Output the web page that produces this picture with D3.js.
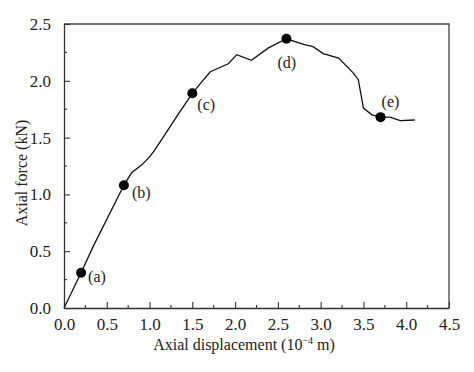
<!DOCTYPE html>
<html>
<head>
<meta charset="utf-8">
<script src="https://cdn.jsdelivr.net/npm/d3@7"></script>
<style>
  body { margin: 0; background: #fff; }
  svg text { font-family: "Liberation Serif", "DejaVu Serif", serif; fill: #222; }
</style>
</head>
<body>
<div class="canvas"></div>
<script>
// displacement (10^-4 m) and axial force (kN)
var disp = [0, 0.2, 0.34, 0.7, 0.79, 0.91, 1.0, 1.06, 1.2, 1.33, 1.5, 1.61, 1.71, 1.92, 2.02,
  2.19, 2.39, 2.6, 2.8, 2.91, 3.03, 3.21, 3.38, 3.44, 3.5, 3.6, 3.7, 3.81, 3.93, 4.1];
var force = [0, 0.31, 0.54, 1.08, 1.19, 1.26, 1.33, 1.39, 1.55, 1.7, 1.89, 1.99, 2.08, 2.15, 2.23,
  2.18, 2.29, 2.37, 2.32, 2.3, 2.24, 2.2, 2.07, 2.01, 1.76, 1.7, 1.68, 1.68, 1.65, 1.655];

// marked stages
var stageNames = ["(a)", "(b)", "(c)", "(d)", "(e)"];
var stageDisp = [0.2, 0.7, 1.5, 2.6, 3.7];
var stageForce = [0.31, 1.08, 1.89, 2.37, 1.68];

var xTicks = [0, 0.5, 1, 1.5, 2, 2.5, 3, 3.5, 4, 4.5];
var yTicks = [0, 0.5, 1, 1.5, 2, 2.5];

// label offsets (px) relative to each marker
var labelDx = [7, 8, 5, -9, 1];
var labelDy = [9, 13, 17, 29, -10];

var width = 474, height = 372;
var mLeft = 64, mRight = 449, mTop = 24, mBottom = 308;

var svg = d3.select(".canvas").append("svg")
  .attr("width", width).attr("height", height);

var x = d3.scaleLinear().domain([0, 4.5]).range([mLeft, mRight]);
var y = d3.scaleLinear().domain([0, 2.5]).range([mBottom, mTop]);

// frame top/right
svg.append("path")
  .attr("d", `M${mLeft},${mTop}H${mRight}V${mBottom}`)
  .attr("fill", "none").attr("stroke", "#444").attr("stroke-width", 1.3);

// axes with inward ticks
var xAxis = svg.append("g").attr("transform", `translate(0,${mBottom})`)
  .call(d3.axisBottom(x).tickValues(xTicks).tickSizeInner(-6).tickSizeOuter(0)
    .tickPadding(10).tickFormat(d3.format(".1f")));
var yAxis = svg.append("g").attr("transform", `translate(${mLeft},0)`)
  .call(d3.axisLeft(y).tickValues(yTicks).tickSizeInner(-6).tickSizeOuter(0)
    .tickPadding(13).tickFormat(d3.format(".1f")));

[xAxis, yAxis].forEach(function (g) {
  g.select(".domain").attr("stroke", "#333").attr("stroke-width", 1.3);
  g.selectAll(".tick line").attr("stroke", "#333").attr("stroke-width", 1.1);
  g.selectAll(".tick text").attr("font-size", 17).attr("fill", "#222")
    .style("font-family", "Liberation Serif, serif");
});

// minor ticks
svg.append("g").selectAll("line")
  .data(xTicks.slice(0, -1).map(function (d) { return d + 0.25; }))
  .enter().append("line")
  .attr("x1", function (d) { return x(d); }).attr("x2", function (d) { return x(d); })
  .attr("y1", mBottom).attr("y2", mBottom - 3)
  .attr("stroke", "#333").attr("stroke-width", 1.1);
svg.append("g").selectAll("line")
  .data(yTicks.slice(0, -1).map(function (d) { return d + 0.25; }))
  .enter().append("line")
  .attr("y1", function (d) { return y(d); }).attr("y2", function (d) { return y(d); })
  .attr("x1", mLeft).attr("x2", mLeft + 3)
  .attr("stroke", "#333").attr("stroke-width", 1.1);

// curve
var line = d3.line()
  .x(function (d) { return x(d[0]); })
  .y(function (d) { return y(d[1]); });
svg.append("path")
  .datum(disp.map(function (d, i) { return [d, force[i]]; }))
  .attr("d", line)
  .attr("fill", "none").attr("stroke", "#111").attr("stroke-width", 1.3);

// stage markers
var stages = stageNames.map(function (n, i) {
  return { name: n, x: stageDisp[i], y: stageForce[i], dx: labelDx[i], dy: labelDy[i] };
});
svg.append("g").selectAll("circle").data(stages).enter().append("circle")
  .attr("cx", function (d) { return x(d.x); })
  .attr("cy", function (d) { return y(d.y); })
  .attr("r", 5).attr("fill", "#000");
svg.append("g").selectAll("text").data(stages).enter().append("text")
  .attr("x", function (d) { return x(d.x) + d.dx; })
  .attr("y", function (d) { return y(d.y) + d.dy; })
  .attr("font-size", 16)
  .text(function (d) { return d.name; });

// axis titles
var xt = svg.append("text")
  .attr("x", 244).attr("y", 350)
  .attr("text-anchor", "middle").attr("font-size", 16);
xt.append("tspan").text("Axial displacement (10");
xt.append("tspan").attr("dy", -6).attr("font-size", 10).text("\u22124");
xt.append("tspan").attr("dy", 6).text(" m)");

svg.append("text")
  .attr("transform", "translate(27,173) rotate(-90)")
  .attr("text-anchor", "middle").attr("font-size", 16)
  .text("Axial force (kN)");
</script>
</body>
</html>
